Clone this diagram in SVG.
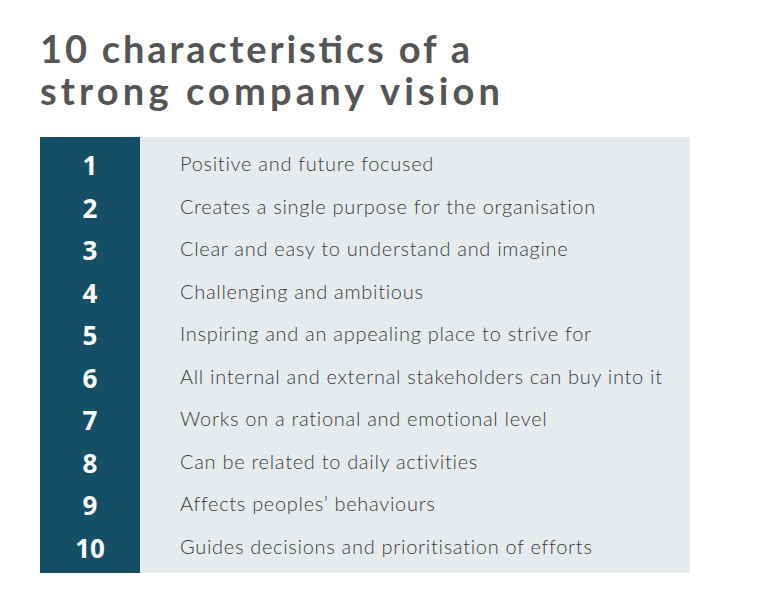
<svg xmlns="http://www.w3.org/2000/svg" width="770" height="612" viewBox="0 0 770 612">
<style>
.t{font-family:Lato,"Open Sans",sans-serif;font-weight:700;font-size:38px;fill:#555}
.n{font-family:"Open Sans",Lato,sans-serif;font-weight:700;font-size:26px;fill:#fff;text-anchor:middle}
.r{font-family:Lato,"Liberation Sans",sans-serif;font-weight:300;font-size:20px;fill:#3a3a3a;letter-spacing:0.7px}
</style>
<rect width="770" height="612" fill="#fff"/>
<text class="t" x="40" y="63" textLength="430" lengthAdjust="spacing">10 characteristics of a</text>
<text class="t" x="40" y="105" textLength="460" lengthAdjust="spacing">strong company vision</text>
<rect x="40" y="137" width="100" height="436" fill="#154f67"/>
<rect x="140" y="137" width="550" height="436" fill="#e6ecee"/>
<g class="n">
<text x="90" y="175">1</text><text x="90" y="218">2</text><text x="90" y="260">3</text><text x="90" y="303">4</text><text x="90" y="345">5</text><text x="90" y="388">6</text><text x="90" y="430">7</text><text x="90" y="473">8</text><text x="90" y="515">9</text><text x="90" y="558">10</text>
</g>
<g class="r">
<text x="180" y="171">Positive and future focused</text>
<text x="180" y="214">Creates a single purpose for the organisation</text>
<text x="180" y="256">Clear and easy to understand and imagine</text>
<text x="180" y="299">Challenging and ambitious</text>
<text x="180" y="341">Inspiring and an appealing place to strive for</text>
<text x="180" y="384">All internal and external stakeholders can buy into it</text>
<text x="180" y="426">Works on a rational and emotional level</text>
<text x="180" y="469">Can be related to daily activities</text>
<text x="180" y="511">Affects peoples’ behaviours</text>
<text x="180" y="554">Guides decisions and prioritisation of efforts</text>
</g>
</svg>
